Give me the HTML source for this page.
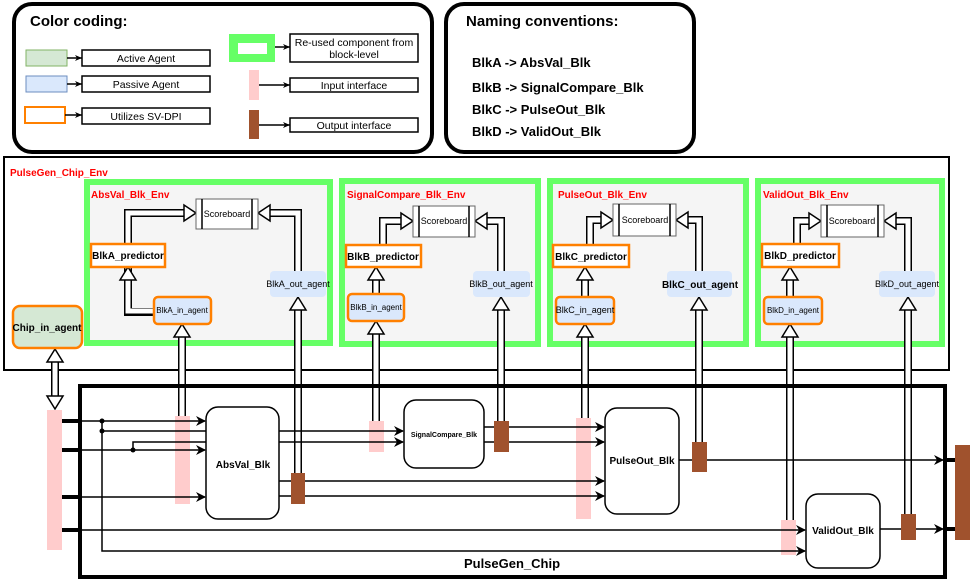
<!DOCTYPE html>
<html><head><style>
body{margin:0;background:#fff}
svg{display:block;font-family:"Liberation Sans",sans-serif}
.o{stroke:#000;stroke-width:8;fill:none;stroke-linejoin:miter}
.i{stroke:#fff;stroke-width:5;fill:none;stroke-linejoin:miter}
.hd{fill:#fff;stroke:#000;stroke-width:1.5}
.ln{stroke:#000;stroke-width:1.5;fill:none}
.tk{stroke:#000;stroke-width:4;fill:none}
.pk{fill:#ffcccc}
.br{fill:#a0522d}
.env{fill:#f5f5f5;stroke:#66ff66;stroke-width:6}
.rl{fill:#ff0000;font-weight:bold;font-size:10px}
.sb{fill:#fff;stroke:#666;stroke-width:1}
.pr{fill:#fff;stroke:#ff8000;stroke-width:2.5}
.ia{fill:#dae8fc;stroke:#ff8000;stroke-width:2.5}
.oa{fill:#dae8fc}
.t9{font-size:9px;text-anchor:middle}
.t8{font-size:8px;text-anchor:middle}
.tb{font-size:10px;font-weight:bold;text-anchor:middle}
.lg{fill:#fff;stroke:#000;stroke-width:1.5}
.lt{font-size:10.5px;text-anchor:middle}
</style></head><body>
<svg width="974" height="582" viewBox="0 0 974 582" xmlns="http://www.w3.org/2000/svg">
<defs><marker id="a" markerWidth="10" markerHeight="10" refX="9" refY="5" orient="auto" markerUnits="userSpaceOnUse"><path d="M0,0 L10,5 L0,10 L3,5 z" fill="#000"/></marker>
<marker id="s" markerWidth="8" markerHeight="8" refX="7" refY="4" orient="auto" markerUnits="userSpaceOnUse"><path d="M0,1 L7,4 L0,7 L2,4 z" fill="#000"/></marker></defs>

<!-- Legend 1 -->
<rect x="14" y="4" width="418" height="148" rx="18" fill="#fff" stroke="#000" stroke-width="4"/>
<text x="30" y="26" font-size="15" font-weight="bold">Color coding:</text>
<rect x="26" y="50" width="41" height="16" fill="#d5e8d4" stroke="#82b366"/>
<rect x="26" y="76" width="41" height="16" fill="#dae8fc" stroke="#6c8ebf"/>
<rect x="25" y="107" width="40" height="16" fill="#fff" stroke="#ff8000" stroke-width="2"/>
<g class="ln" stroke-width="1" marker-end="url(#s)">
<path d="M67 58H82"/><path d="M67 84H82"/><path d="M65 115H82"/>
<path d="M275 47H290"/><path d="M259 85H290"/><path d="M259 125H290"/>
</g>
<rect class="lg" x="82" y="50" width="128" height="16"/><text class="lt" x="146" y="62">Active Agent</text>
<rect class="lg" x="82" y="76" width="128" height="16"/><text class="lt" x="146" y="88">Passive Agent</text>
<rect class="lg" x="82" y="108" width="128" height="16"/><text class="lt" x="146" y="120">Utilizes SV-DPI</text>
<rect x="229" y="34" width="46" height="28" fill="#66ff66"/><rect x="238" y="43" width="29" height="11" fill="#fff"/>
<rect class="pk" x="249" y="70" width="10" height="30"/>
<rect class="br" x="249" y="110" width="10" height="29"/>
<rect class="lg" x="290" y="34" width="128" height="28"/><text class="lt" x="354" y="46">Re-used component from</text><text class="lt" x="354" y="58">block-level</text>
<rect class="lg" x="290" y="78" width="128" height="14"/><text class="lt" x="354" y="89">Input interface</text>
<rect class="lg" x="290" y="118" width="128" height="14"/><text class="lt" x="354" y="129">Output interface</text>

<!-- Legend 2 -->
<rect x="446" y="4" width="248" height="148" rx="18" fill="#fff" stroke="#000" stroke-width="4"/>
<text x="466" y="26" font-size="15" font-weight="bold">Naming conventions:</text>
<g font-size="13" font-weight="bold"><text x="472" y="67">BlkA -&gt; AbsVal_Blk</text><text x="472" y="92">BlkB -&gt; SignalCompare_Blk</text><text x="472" y="114">BlkC -&gt; PulseOut_Blk</text><text x="472" y="136">BlkD -&gt; ValidOut_Blk</text></g>

<!-- Env -->
<rect x="4" y="157" width="945" height="213" fill="#fff" stroke="#000" stroke-width="2"/>
<text class="rl" x="10" y="176">PulseGen_Chip_Env</text>
<rect class="env" x="87" y="182" width="243" height="161"/>
<rect class="env" x="342" y="181" width="196" height="163"/>
<rect class="env" x="550" y="181" width="196" height="163"/>
<rect class="env" x="758" y="181" width="184" height="163"/>
<text class="rl" x="91" y="198">AbsVal_Blk_Env</text>
<text class="rl" x="347" y="198">SignalCompare_Blk_Env</text>
<text class="rl" x="558" y="198">PulseOut_Blk_Env</text>
<text class="rl" x="763" y="198">ValidOut_Blk_Env</text>

<!-- hollow arrows -->
<g>
<path class="o" d="M182 416V336M128 267V312H154M128 244V213H185M298 271V213H269M298 473V309"/>
<path class="i" d="M182 416V336M128 267V311H154M128 244V213H185M298 271V213H269M298 473V309"/>
<path class="o" d="M376 421V333M376 294V279M383 245V221H402M501 271V221H486M501 421V309"/>
<path class="i" d="M376 421V333M376 294V279M383 245V221H402M501 271V221H486M501 421V309"/>
<path class="o" d="M585 418V336M585 297V279M590 245V220H602M699 271V220H687M699 442V309"/>
<path class="i" d="M585 418V336M585 297V279M590 245V220H602M699 271V220H687M699 442V309"/>
<path class="o" d="M790 520V336M790 297V279M797 244V221H810M908 271V221H895M908 514V309"/>
<path class="i" d="M790 520V336M790 297V279M797 244V221H810M908 271V221H895M908 514V309"/>
<path class="o" d="M55 361V397"/><path class="i" d="M55 360V398"/>
</g>
<g class="hd">
<polygon points="174,337 190,337 182,324"/><polygon points="120,280 136,280 128,267"/><polygon points="184,205 184,221 196,213"/><polygon points="270,205 270,221 258,213"/><polygon points="290,310 306,310 298,297"/>
<polygon points="368,334 384,334 376,321"/><polygon points="368,280 384,280 376,267"/><polygon points="401,213 401,229 413,221"/><polygon points="487,213 487,229 475,221"/><polygon points="493,310 509,310 501,297"/>
<polygon points="577,337 593,337 585,324"/><polygon points="577,280 593,280 585,267"/><polygon points="601,212 601,228 613,220"/><polygon points="688,212 688,228 676,220"/><polygon points="691,310 707,310 699,297"/>
<polygon points="782,337 798,337 790,324"/><polygon points="782,280 798,280 790,267"/><polygon points="809,213 809,229 821,221"/><polygon points="896,213 896,229 884,221"/><polygon points="900,310 916,310 908,297"/>
<polygon points="47,362 63,362 55,349"/><polygon points="47,396 63,396 55,409"/>
</g>

<!-- env nodes -->
<rect x="13" y="306" width="69" height="42" rx="7" fill="#d5e8d4" stroke="#ff8000" stroke-width="2.5"/><text class="tb" x="47" y="331">Chip_in_agent</text>
<g>
<rect class="sb" x="196" y="199" width="62" height="30"/><path class="ln" stroke="#666" stroke-width="1" d="M202 199V229M252 199V229"/><text class="t9" x="227" y="217">Scoreboard</text>
<rect class="pr" x="91" y="244" width="74" height="23"/><text class="tb" x="128" y="259">BlkA_predictor</text>
<rect class="ia" x="154" y="297" width="57" height="27" rx="4"/><text class="t8" x="182" y="313">BlkA_in_agent</text>
<rect class="oa" x="270" y="271" width="56" height="26" rx="4"/><text class="t9" x="298" y="287">BlkA_out_agent</text>

<rect class="sb" x="413" y="206" width="62" height="31"/><path class="ln" stroke="#666" stroke-width="1" d="M419 206V237M469 206V237"/><text class="t9" x="444" y="224">Scoreboard</text>
<rect class="pr" x="346" y="245" width="75" height="22"/><text class="tb" x="383" y="260">BlkB_predictor</text>
<rect class="ia" x="348" y="294" width="56" height="27" rx="4"/><text class="t8" x="376" y="310">BlkB_in_agent</text>
<rect class="oa" x="473" y="271" width="57" height="26" rx="4"/><text class="t9" x="501" y="287">BlkB_out_agent</text>

<rect class="sb" x="613" y="204" width="63" height="32"/><path class="ln" stroke="#666" stroke-width="1" d="M619 204V236M670 204V236"/><text class="t9" x="645" y="223">Scoreboard</text>
<rect class="pr" x="553" y="245" width="76" height="22"/><text class="tb" x="591" y="260">BlkC_predictor</text>
<rect class="ia" x="556" y="297" width="58" height="27" rx="4"/><text class="t9" x="585" y="313">BlkC_in_agent</text>
<rect class="oa" x="667" y="271" width="65" height="26" rx="4"/><text class="tb" x="700" y="288" font-size="9.5">BlkC_out_agent</text>

<rect class="sb" x="821" y="205" width="63" height="32"/><path class="ln" stroke="#666" stroke-width="1" d="M827 205V237M878 205V237"/><text class="t9" x="852" y="224">Scoreboard</text>
<rect class="pr" x="762" y="244" width="77" height="23"/><text class="tb" x="800" y="259">BlkD_predictor</text>
<rect class="ia" x="764" y="297" width="58" height="27" rx="4"/><text class="t8" x="793" y="313">BlkD_in_agent</text>
<rect class="oa" x="879" y="271" width="56" height="26" rx="4"/><text class="t9" x="907" y="287">BlkD_out_agent</text>
</g>

<!-- Chip -->
<rect x="80" y="386" width="865" height="191" fill="none" stroke="#000" stroke-width="4"/>
<text x="512" y="568" font-size="13" font-weight="bold" text-anchor="middle">PulseGen_Chip</text>
<rect class="pk" x="47" y="410" width="15" height="140"/>
<rect class="pk" x="175" y="416" width="15" height="88"/>
<rect class="pk" x="369" y="421" width="15" height="31"/>
<rect class="pk" x="576" y="418" width="15" height="101"/>
<rect class="pk" x="781" y="520" width="15" height="35"/>
<rect class="br" x="955" y="445" width="15" height="95"/>
<path class="tk" d="M62 421H80M62 450H80M62 497H80M62 530H80M945 460H955M945 529H955"/>
<g class="ln" marker-end="url(#a)">
<path d="M80 421H205"/>
<path d="M102 431H403"/>
<path d="M80 450H205"/>
<path d="M133 450V442H403"/>
<path d="M80 497H205"/>
<path d="M80 530H805"/>
<path d="M102 421V551H805"/>
<path d="M279 481H604"/>
<path d="M279 496H604"/>
<path d="M484 427H604"/>
<path d="M484 442H604"/>
<path d="M679 460H943"/>
<path d="M880 529H943"/>
</g>
<circle cx="102" cy="421" r="2.5"/><circle cx="102" cy="431" r="2.5"/><circle cx="133" cy="450" r="2.5"/>
<rect x="206" y="407" width="73" height="112" rx="12" fill="#fff" stroke="#000" stroke-width="1.5"/><text x="243" y="468" font-size="10" font-weight="bold" text-anchor="middle">AbsVal_Blk</text>
<rect x="404" y="400" width="80" height="68" rx="12" fill="#fff" stroke="#000" stroke-width="1.5"/><text x="444" y="437" font-size="7" font-weight="bold" text-anchor="middle">SignalCompare_Blk</text>
<rect x="605" y="408" width="74" height="106" rx="12" fill="#fff" stroke="#000" stroke-width="1.5"/><text x="642" y="464" font-size="10" font-weight="bold" text-anchor="middle">PulseOut_Blk</text>
<rect x="806" y="494" width="74" height="74" rx="12" fill="#fff" stroke="#000" stroke-width="1.5"/><text x="843" y="534" font-size="10" font-weight="bold" text-anchor="middle">ValidOut_Blk</text>
<rect class="br" x="291" y="473" width="14" height="31"/>
<rect class="br" x="494" y="421" width="15" height="31"/>
<rect class="br" x="692" y="442" width="15" height="30"/>
<rect class="br" x="901" y="514" width="15" height="26"/>
</svg>
</body></html>
